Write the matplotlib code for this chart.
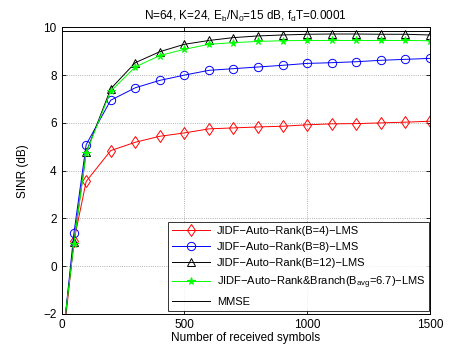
import matplotlib
matplotlib.use("Agg")
import matplotlib.pyplot as plt

plt.rcParams["font.family"] = ["Liberation Sans", "DejaVu Sans"]
plt.rcParams["mathtext.fontset"] = "custom"
plt.rcParams["mathtext.rm"] = "Liberation Sans"
plt.rcParams["mathtext.it"] = "Liberation Sans"
plt.rcParams["mathtext.default"] = "regular"

simbolos = [0, 50, 100, 200, 300, 400, 500, 600, 700, 800, 900, 1000,
            1100, 1200, 1300, 1400, 1500]

sinr_b4 = [-3.8, 1.05, 3.55, 4.84, 5.19, 5.44, 5.58, 5.75, 5.79, 5.83, 5.86,
           5.92, 5.96, 5.97, 6.00, 6.03, 6.07]
sinr_b8 = [-3.6, 1.38, 5.09, 6.95, 7.47, 7.78, 8.00, 8.20, 8.27, 8.34, 8.41,
           8.49, 8.52, 8.56, 8.62, 8.66, 8.70]
sinr_b12 = [-3.4, 1.00, 4.77, 7.43, 8.52, 8.98, 9.29, 9.45, 9.57, 9.64, 9.68,
            9.71, 9.72, 9.72, 9.71, 9.71, 9.68]
sinr_branch = [-3.4, 0.95, 4.74, 7.33, 8.34, 8.82, 9.08, 9.29, 9.36, 9.41,
               9.44, 9.45, 9.45, 9.45, 9.45, 9.45, 9.44]
sinr_mmse = [9.85] * len(simbolos)

rotulos = [
    "JIDF\u2212Auto\u2212Rank(B=4)\u2212LMS",
    "JIDF\u2212Auto\u2212Rank(B=8)\u2212LMS",
    "JIDF\u2212Auto\u2212Rank(B=12)\u2212LMS",
    r"JIDF$-$Auto$-$Rank&Branch(B$_{avg}$=6.7)$-$LMS",
    "MMSE",
]

fig = plt.figure(figsize=(4.74, 3.55), dpi=100)
ax = fig.add_axes([0.130, 0.1155, 0.777, 0.8075])

lw = 0.7
ax.plot(simbolos, sinr_b4, color="r", marker="d", mfc="none", ms=6, lw=lw,
        mew=0.7, label=rotulos[0])
ax.plot(simbolos, sinr_b8, color="b", marker="o", mfc="none", ms=6, lw=lw,
        mew=0.7, label=rotulos[1])
ax.plot(simbolos, sinr_b12, color="k", marker="^", mfc="none", ms=6, lw=lw,
        mew=0.7, label=rotulos[2])
ax.plot(simbolos, sinr_branch, color="#00ff00", marker="*", ms=5.5, lw=lw,
        mew=0.7, label=rotulos[3])
ax.plot(simbolos, sinr_mmse, color="k", lw=lw, label=rotulos[4])

ax.set_xlim(0, 1500)
ax.set_ylim(-2, 10)
ax.set_xticks([0, 500, 1000, 1500])
ax.set_yticks([-2, 0, 2, 4, 6, 8, 10])
ax.tick_params(direction="in", top=True, right=True, labelsize=8.5,
               length=3, width=0.6)
ax.grid(True, linestyle=":", color="#999999", linewidth=0.6)
for s in ax.spines.values():
    s.set_linewidth(0.7)

ax.set_xlabel("Number of received symbols", fontsize=8.5, labelpad=1)
ax.set_ylabel("SINR (dB)", fontsize=8.5, labelpad=10)
ax.set_title(r"N=64, K=24, E$_b$/N$_0$=15 dB, f$_d$T=0.0001", fontsize=8.5,
             pad=5)

leg = ax.legend(loc="lower right", bbox_to_anchor=(0.998, 0.012),
                fontsize=8.0, frameon=True, fancybox=False,
                edgecolor="k", borderaxespad=0, handlelength=3.4,
                labelspacing=0.55, borderpad=0.35, handletextpad=0.6)
leg.get_frame().set_linewidth(0.7)

fig.savefig("out.png", dpi=100)
